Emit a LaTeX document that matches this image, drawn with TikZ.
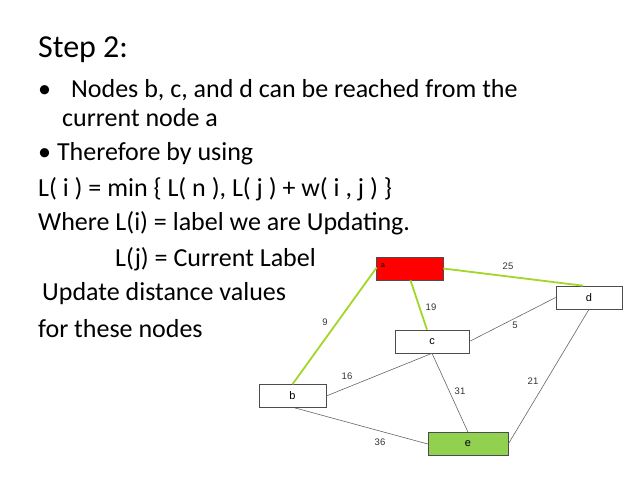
\documentclass[tikz,border=0pt]{standalone}
\usepackage{fontspec}
\setmainfont{Carlito}
\newfontfamily\arialf{Liberation Sans}
\begin{document}
\begin{tikzpicture}[x=1pt,y=-1pt,
  txt/.style={anchor=west,inner sep=0pt,font=\fontsize{26}{28}\selectfont},
  box/.style={draw=black!70,line width=0.6pt,minimum width=#1,minimum height=23pt,inner sep=0pt,font=\fontsize{11}{12}\arialf},
  lbl/.style={font=\fontsize{9.5}{10}\arialf,text=black!80,inner sep=0pt},
  ed/.style={draw=black!60,line width=0.6pt},
  gr/.style={draw=lime,line width=1.8pt},
  ]
\definecolor{lime}{RGB}{164,214,40}
\definecolor{egreen}{RGB}{146,208,80}
\useasboundingbox (0,0) rectangle (638,478);
\fill[white] (0,0) rectangle (638,478);
\node[txt,font=\fontsize{32}{34}\selectfont] (t0) at (38,50) {Step 2:};
\node[txt] (t1) at (38,90) {•\hspace{20pt}Nodes b, c, and d can be reached from the};
\node[txt] (t2) at (62,118) {current node a};
\node[txt] (t3) at (38,154) {• Therefore by using};
\node[txt] (t4) at (38,189) {L( i ) = min \{ L( n ), L( j ) + w( i , j ) \}};
\node[txt] (t5) at (38,223) {Where L(i) = label we are Updating.};
\node[txt] (t6) at (115,259) {L(j) = Current Label};
\node[txt] (t7) at (42,294) {Update distance values};
\node[txt] (t8) at (38,329) {for these nodes};

\node[box=67pt,fill=red] (a) at (409.5,268.5) {};
\node[font=\fontsize{7}{8}\arialf,inner sep=0pt] (al) at (383,266) {a};
\node[box=66pt,fill=white] (d) at (589,297.5) {d};
\node[box=74pt,fill=white] (c) at (432,341.5) {c};
\node[box=67pt,fill=white] (b) at (292.5,396) {b};
\node[box=80pt,fill=egreen] (e) at (468,444) {e};

\draw[gr] (a.west) ++(1,-1) -- (b.north);
\draw[gr] (a.east) -- ([xshift=-6pt]d.north);
\draw[gr] ([xshift=1pt]a.south) -- ([xshift=-5pt]c.north);
\draw[ed] (c.east) -- (d.west);
\draw[ed] (b.east) -- (c.south);
\draw[ed] (c.south) -- (e.north);
\draw[ed] ([xshift=2pt]b.south) -- (e.west);
\draw[ed] (d.south) -- (e.east);

\node[lbl] (l25) at (508,266) {25};
\node[lbl] (l19) at (431,307) {19};
\node[lbl] (l9) at (325,322) {9};
\node[lbl] (l5) at (515,325) {5};
\node[lbl] (l16) at (347,376) {16};
\node[lbl] (l31) at (460,391) {31};
\node[lbl] (l21) at (533,381) {21};
\node[lbl] (l36) at (380,442) {36};
\end{tikzpicture}
\end{document}
